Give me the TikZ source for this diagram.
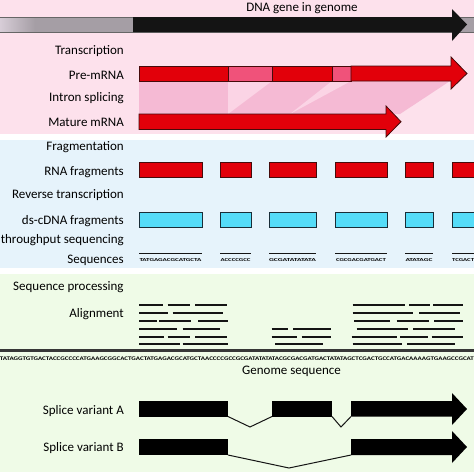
\documentclass[tikz,border=0pt]{standalone}
\usepackage{fontspec}
\setmainfont{Carlito}
\usepackage{graphicx}
\definecolor{pinkbg}{RGB}{253,225,236}
\definecolor{bluebg}{RGB}{230,243,251}
\definecolor{greenbg}{RGB}{239,251,231}
\definecolor{rnared}{RGB}{226,0,10}
\definecolor{intronpink}{RGB}{240,82,122}
\definecolor{shadecol}{RGB}{245,186,212}
\definecolor{shadelight}{RGB}{251,212,229}
\definecolor{cdna}{RGB}{85,220,248}
\definecolor{redline}{RGB}{70,10,10}
\definecolor{blueline}{RGB}{25,45,55}
\definecolor{dnagray}{RGB}{165,158,165}
\definecolor{dnalight}{RGB}{215,205,215}
\definecolor{ink}{RGB}{20,20,20}
\newcommand\seqtxt[2]{\resizebox{#1pt}{3pt}{\bfseries #2}}
\begin{document}
\begin{tikzpicture}[x=1pt,y=-1pt,
  lbl/.style={anchor=base east,inner sep=0,font=\fontsize{13}{15}\selectfont},
  lblw/.style={anchor=base west,inner sep=0,font=\fontsize{13}{15}\selectfont},
  lblc/.style={anchor=base,inner sep=0,font=\fontsize{13}{15}\selectfont},
  rnabox/.style={fill=rnared,draw=redline,line width=0.8pt},
  intronbox/.style={fill=intronpink,draw=redline,line width=0.8pt},
  cdnabox/.style={fill=cdna,draw=blueline,line width=0.8pt},
  blackbox/.style={fill=black,draw=none},
  seqline/.style={draw=ink,line width=0.8pt},
  alnline/.style={draw=ink,line width=1.8pt},
  splline/.style={draw=ink,line width=1pt},
  seqnode/.style={anchor=base,inner sep=0}]
\useasboundingbox (0,0) rectangle (474,474);
% panels
\fill[pinkbg] (0,0) rectangle (474,134);
\fill[bluebg] (0,140) rectangle (474,268);
\fill[greenbg] (0,274) rectangle (474,472);

% DNA gene
\shade[left color=dnalight,right color=dnagray] (0,17) rectangle (35,32);
\fill[dnagray] (35,17) rectangle (474,32);
\draw[black!60,line width=0.5pt] (0,17) -- (474,17) (0,32) -- (474,32);
\fill[ink] (133,17) -- (452,17) -- (452,9) -- (467,24.5) -- (452,41) -- (452,32) -- (133,32) -- cycle;
\node[lblc] (dna) at (302,11.7) {DNA gene in genome};

% splicing shading
\fill[shadecol] (139,81) -- (450,81) -- (400,114) -- (139,114) -- cycle;
\fill[shadelight] (228,81) -- (272,81) -- (228,114) -- cycle;
\fill[shadelight] (332,81) -- (351,81) -- (290,114) -- cycle;

% pre-mRNA
\draw[rnabox] (139,66) rectangle (228,81);
\draw[intronbox] (228,66) rectangle (272,81);
\draw[rnabox] (272,66) rectangle (332,81);
\draw[intronbox] (332,66) rectangle (351,81);
\draw[rnabox] (351,66) -- (451,66) -- (451,57) -- (467,73.5) -- (451,89) -- (451,81) -- (351,81) -- cycle;
% mature mRNA
\draw[rnabox] (139,114) -- (386,114) -- (386,106) -- (401,121.7) -- (386,137) -- (386,129.5) -- (139,129.5) -- cycle;

\node[lbl] (tr) at (124,54.5) {Transcription};
\node[lbl] (pre) at (124,79.3) {Pre-mRNA};
\node[lbl] (intr) at (124,101.7) {Intron splicing};
\node[lbl] (mat) at (124,126.7) {Mature mRNA};

% blue panel
\node[lbl] (frag) at (124,150.7) {Fragmentation};
\node[lbl] (rnaf) at (124,175.7) {RNA fragments};
\node[lbl] (rt) at (124,198.3) {Reverse transcription};
\node[lbl] (cdnaf) at (124,224) {ds-cDNA fragments};
\node[lbl] (hts) at (124,243.3) {throughput sequencing};
\node[lbl] (seqs) at (124,263.3) {Sequences};

\foreach \a/\b in {139/202,220/251,269/316,335/387,405/433,452/480}{
  \draw[rnabox] (\a,162) rectangle (\b,177);
  \draw[cdnabox] (\a,212) rectangle (\b,227);
}
\foreach \a/\b in {139/202,220/251,269/316,335/387,405/433,452/476}{
  \draw[seqline] (\a,253) -- (\b,253);
}
\node[seqnode] (s1) at (170.5,261.3) {\seqtxt{62}{TATGAGACGCATGCTA}};
\node[seqnode] (s2) at (235.5,261.3) {\seqtxt{30}{ACCCCGCC}};
\node[seqnode] (s3) at (292.5,261.3) {\seqtxt{47}{GCGATATATATA}};
\node[seqnode] (s4) at (361,261.3) {\seqtxt{50}{CGCGACGATGACT}};
\node[seqnode] (s5) at (419,261.3) {\seqtxt{27}{ATATAGC}};
\node[seqnode,anchor=base west] (s6) at (452,261.3) {\seqtxt{22}{TCGACT}};

% green panel
\node[lblw] (sp) at (13,290) {Sequence processing};
\node[lbl] (aln) at (124,317.7) {Alignment};

\foreach \y/\segs in {305/{139.3/163.3,167.7/190,195/227.3,352.7/405,409.3/430,433.3/463.3},
  312.7/{139.3/168.3,172.7/222.7,352.7/413.3,419.3/460},
  321/{139.3/156.7,159.3/190.7,198.3/228.3,354/390,396.7/429.3,434/463.3},
  329/{139.3/177.3,182.7/220,271.7/288.3,293.3/330.7,356.7/408.3,413.3/455},
  336.7/{139.3/164,167.7/190,195/227.3,271.7/296.7,301.7/330.7,351.7/396.7,400/428.3,431.7/463.3},
  344/{139.3/180,182.7/228.3,275/322.7,352.7/401.7,407.3/455}}{
  \foreach \a/\b in \segs { \draw[alnline] (\a,\y) -- (\b,\y); }
}

\draw[draw=ink!85,line width=2.5pt] (0,350.5) -- (474,350.5);
\node[seqnode] (gseq) at (237,360) {\resizebox{474pt}{3.6pt}{\bfseries TATAGGTGTGACTACCGCCCCATGAAGCGGCACTGACTATGAGACGCATGCTAACCCCGCCGCGATATATATACGCGACGATGACTATATAGCTCGACTGCCATGACAAAAGTGAAGCCGCAT}};
\node[lblc] (gs) at (291.5,374.3) {Genome sequence};

% splice variants
\node[lbl] (va) at (124,414.3) {Splice variant A};
\node[lbl] (vb) at (124,451) {Splice variant B};
\fill[blackbox] (139,401) rectangle (228,416.5);
\fill[blackbox] (272,401) rectangle (332,416.5);
\fill[blackbox] (351,401) -- (452,401) -- (452,393) -- (467,409) -- (452,425) -- (452,416.5) -- (351,416.5) -- cycle;
\draw[splline] (228,416.5) -- (250,427) -- (272,416.5);
\draw[splline] (332,416.5) -- (341,427) -- (351,416.5);
\fill[blackbox] (139,439) rectangle (228,455);
\fill[blackbox] (351,439) -- (452,439) -- (452,431) -- (467,447) -- (452,463) -- (452,455) -- (351,455) -- cycle;
\draw[splline] (228,455) -- (289,468) -- (351,455);
\end{tikzpicture}
\end{document}
